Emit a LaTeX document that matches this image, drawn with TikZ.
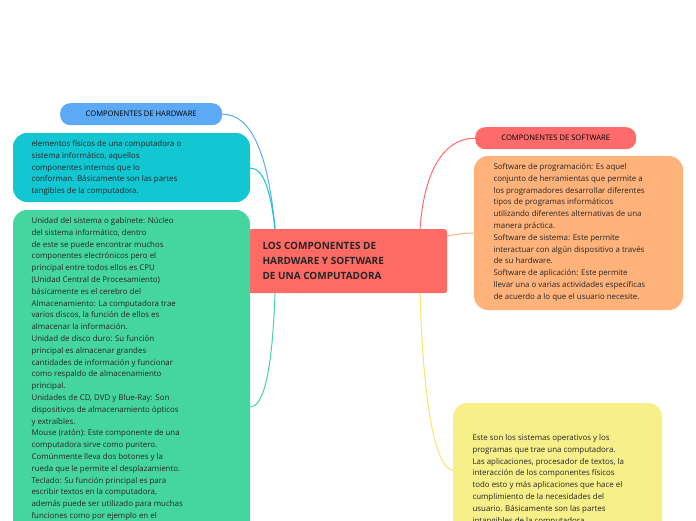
\documentclass[tikz,border=0pt]{standalone}
\usepackage{fontspec}
\setmainfont{Open Sans}
\definecolor{cred}{RGB}{255,106,100}
\definecolor{cblue}{RGB}{92,170,245}
\definecolor{ccyan}{RGB}{18,198,210}
\definecolor{cgreen}{RGB}{69,214,160}
\definecolor{cpink}{RGB}{255,107,107}
\definecolor{corange}{RGB}{255,178,122}
\definecolor{cyellow}{RGB}{247,239,138}
\definecolor{cyline}{RGB}{247,230,110}
\begin{document}
\begin{tikzpicture}[x=1pt,y=-1pt,
 txt/.style={anchor=north west,align=left,font=\fontsize{7.9}{11.8}\selectfont,text=black!85},
 conn/.style={line width=1pt}]
\clip (0,0) rectangle (696,520);
\fill[white] (0,0) rectangle (696,520);
% center
\node[fill=cred,rounded corners=3pt,minimum width=199pt,minimum height=64pt,anchor=north west] (c) at (248,229) {};
\node[anchor=west,align=left,font=\bfseries\fontsize{10}{15}\selectfont,text=black!85] (ct) at (259,261) {LOS COMPONENTES DE\\HARDWARE Y SOFTWARE\\DE UNA COMPUTADORA};
% hardware
\node[fill=cblue,rounded corners=10pt,minimum width=162pt,minimum height=22pt,anchor=north west,font=\fontsize{7.6}{9}\selectfont] (hw) at (60,103) {COMPONENTES DE HARDWARE};
\fill[ccyan,rounded corners=14pt] (13,133) rectangle (250,202);
\coordinate (cy) at (250,168);
\node[txt] (cyt) at (28,137) {elementos físicos de una computadora o\\sistema informático, aquellos\\componentes internos que lo\\conforman. Básicamente son las partes\\tangibles de la computadora.};
\fill[cgreen,rounded corners=14pt] (13,210) rectangle (250,560);
\coordinate (gr) at (250,407);
\node[txt] (grt) at (28,214) {Unidad del sistema o gabinete: Núcleo\\del sistema informático, dentro\\de este se puede encontrar muchos\\componentes electrónicos pero el\\principal entre todos ellos es CPU\\(Unidad Central de Procesamiento)\\básicamente es el cerebro del\\Almacenamiento: La computadora trae\\varios discos, la función de ellos es\\almacenar la información.\\Unidad de disco duro: Su función\\principal es almacenar grandes\\cantidades de información y funcionar\\como respaldo de almacenamiento\\principal.\\Unidades de CD, DVD y Blue-Ray: Son\\dispositivos de almacenamiento ópticos\\y extraíbles.\\Mouse (ratón): Este componente de una\\computadora sirve como puntero.\\Comúnmente lleva dos botones y la\\rueda que le permite el desplazamiento.\\Teclado: Su función principal es para\\escribir textos en la computadora,\\además puede ser utilizado para muchas\\funciones como por ejemplo en el};
% software
\node[fill=cpink,rounded corners=10pt,minimum width=161pt,minimum height=22pt,anchor=north west,font=\fontsize{7.6}{9}\selectfont] (sw) at (475,127) {COMPONENTES DE SOFTWARE};
\fill[corange,rounded corners=14pt] (474,156) rectangle (683,310);
\coordinate (or) at (474,233);
\node[txt] (ort) at (490,160) {Software de programación: Es aquel\\conjunto de herramientas que permite a\\los programadores desarrollar diferentes\\tipos de programas informáticos\\utilizando diferentes alternativas de una\\manera práctica.\\Software de sistema: Este permite\\interactuar con algún dispositivo a través\\de su hardware.\\Software de aplicación: Este permite\\llevar una o varias actividades específicas\\de acuerdo a lo que el usuario necesite.};
\fill[cyellow,rounded corners=14pt] (453,403) rectangle (662,560);
\coordinate (ye) at (453,470);
\node[txt] (yet) at (469,431) {Este son los sistemas operativos y los\\programas que trae una computadora.\\Las aplicaciones, procesador de textos, la\\interacción de los componentes físicos\\todo esto y más aplicaciones que hace el\\cumplimiento de la necesidades del\\usuario. Básicamente son las partes\\intangibles de la computadora.};
% connectors
\draw[conn,cblue] (275,229) .. controls (268,150) and (250,114) .. (hw.east);
\draw[conn,ccyan] (275,229) .. controls (270,185) and (262,168) .. (cy);
\draw[conn,cgreen] (275,293) .. controls (272,380) and (262,407) .. (gr);
\draw[conn,cpink] (420,229) .. controls (425,160) and (450,138) .. (sw.west);
\draw[conn,corange] (447,236) .. controls (458,234) and (466,233) .. (or);
\draw[conn,cyline] (420,293) .. controls (424,430) and (440,470) .. (ye);
\end{tikzpicture}
\end{document}
